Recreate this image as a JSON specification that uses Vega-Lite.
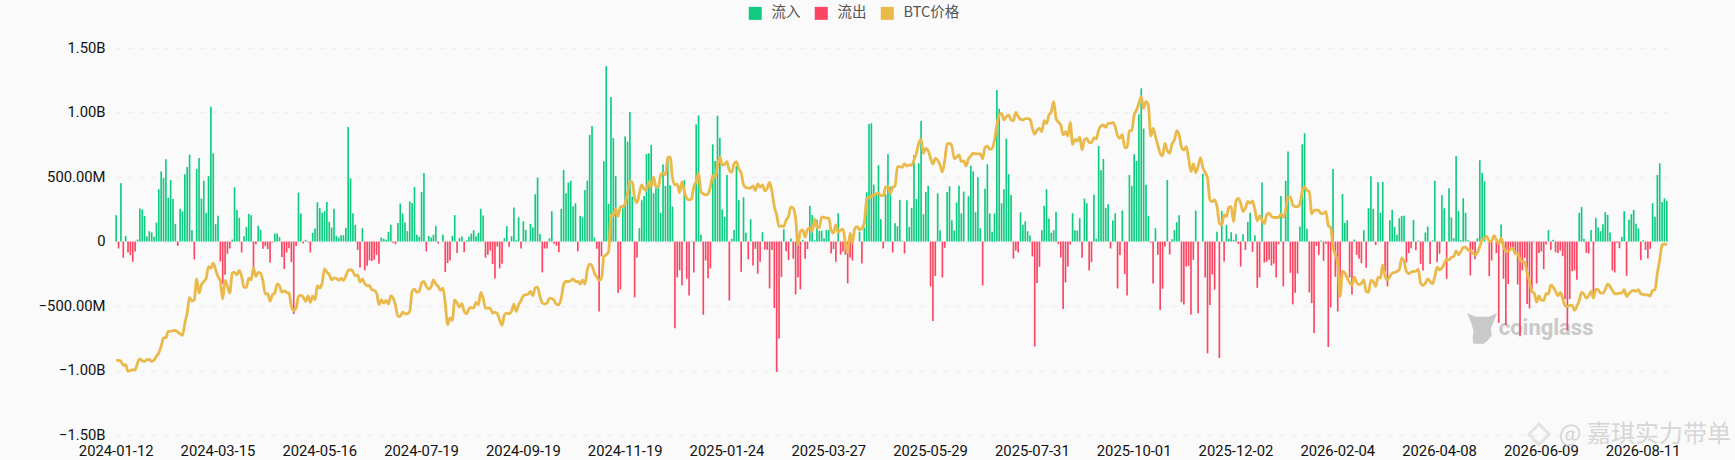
{"$schema":"https://vega.github.io/schema/vega-lite/v6.json","width":1553,"height":387,"autosize":{"type":"none"},"padding":{"left":115,"top":48,"right":67,"bottom":25},"background":"#fafafa","config":{"view":{"stroke":null},"font":"Roboto"},
"datasets":{"flows":[
{"i":0,"流入":204,"btc":-921},{"i":1,"流出":-54,"btc":-921},{"i":2,"流入":451,"btc":-929},{"i":3,"流出":-126,"btc":-960},{"i":4,"流入":44,"btc":-955},{"i":5,"流出":-85,"btc":-1006},{"i":6,"流出":-106,"btc":-1001},{"i":7,"流出":-157,"btc":-993},{"i":8,"流出":-77,"btc":-996},{"i":9,"流入":15,"btc":-942},
{"i":10,"流入":255,"btc":-911},{"i":11,"流入":248,"btc":-924},{"i":12,"流入":199,"btc":-929},{"i":13,"流入":39,"btc":-916},{"i":14,"流入":80,"btc":-913},{"i":15,"流入":70,"btc":-929},{"i":16,"流入":36,"btc":-921},{"i":17,"流入":147,"btc":-890},{"i":18,"流入":405,"btc":-864},{"i":19,"流入":542,"btc":-813},
{"i":20,"流入":493,"btc":-748},{"i":21,"流入":637,"btc":-746},{"i":22,"流入":338,"btc":-697},{"i":23,"流入":477,"btc":-697},{"i":24,"流入":330,"btc":-691},{"i":25,"流入":137,"btc":-689},{"i":26,"流出":-34,"btc":-702},{"i":27,"流入":253,"btc":-715},{"i":28,"流入":235,"btc":-728},{"i":29,"流入":521,"btc":-632},
{"i":30,"流入":578,"btc":-555},{"i":31,"流入":673,"btc":-433},{"i":32,"流入":90,"btc":-462},{"i":33,"流出":-139,"btc":-452},{"i":34,"流入":562,"btc":-289},{"i":35,"流入":648,"btc":-400},{"i":36,"流入":333,"btc":-335},{"i":37,"流入":472,"btc":-310},{"i":38,"流入":222,"btc":-284},{"i":39,"流入":506,"btc":-194},
{"i":40,"流入":1045,"btc":-206},{"i":41,"流入":684,"btc":-168},{"i":42,"流入":134,"btc":-219},{"i":43,"流入":199,"btc":-271},{"i":44,"流出":-155,"btc":-310},{"i":45,"流出":-328,"btc":-446},{"i":46,"流出":-258,"btc":-302},{"i":47,"流出":-95,"btc":-348},{"i":48,"流出":-54,"btc":-400},{"i":49,"流入":15,"btc":-245},
{"i":50,"流入":420,"btc":-240},{"i":51,"流入":245,"btc":-258},{"i":52,"流入":183,"btc":-224},{"i":53,"流出":-85,"btc":-271},{"i":54,"流入":41,"btc":-356},{"i":55,"流入":113,"btc":-356},{"i":56,"流入":214,"btc":-284},{"i":57,"流入":204,"btc":-297},{"i":58,"流出":-219,"btc":-206},{"i":59,"流出":-21,"btc":-271},
{"i":60,"流入":124,"btc":-240},{"i":61,"流入":90,"btc":-245},{"i":62,"流出":-57,"btc":-310},{"i":63,"流出":-36,"btc":-408},{"i":64,"流出":-59,"btc":-405},{"i":65,"流出":-163,"btc":-462},{"i":66,"流出":-5,"btc":-413},{"i":67,"流入":62,"btc":-400},{"i":68,"流入":62,"btc":-328},{"i":69,"流入":34,"btc":-343},
{"i":70,"流出":-121,"btc":-392},{"i":71,"流出":-214,"btc":-382},{"i":72,"流出":-85,"btc":-395},{"i":73,"流出":-52,"btc":-400},{"i":74,"流出":-160,"btc":-503},{"i":75,"流出":-562,"btc":-534},{"i":76,"流出":-34,"btc":-516},{"i":77,"流入":379,"btc":-426},{"i":78,"流入":217,"btc":-418},{"i":79,"流出":-15,"btc":-431},
{"i":80,"流入":13,"btc":-464},{"i":81,"流出":-5,"btc":-421},{"i":82,"流出":-85,"btc":-472},{"i":83,"流入":67,"btc":-421},{"i":84,"流入":100,"btc":-452},{"i":85,"流入":304,"btc":-343},{"i":86,"流入":258,"btc":-361},{"i":87,"流入":222,"btc":-323},{"i":88,"流入":237,"btc":-212},{"i":89,"流入":307,"btc":-237},
{"i":90,"流入":152,"btc":-258},{"i":91,"流入":108,"btc":-297},{"i":92,"流入":253,"btc":-284},{"i":93,"流入":44,"btc":-284},{"i":94,"流入":31,"btc":-302},{"i":95,"流入":49,"btc":-286},{"i":96,"流入":49,"btc":-302},{"i":97,"流入":106,"btc":-266},{"i":98,"流入":887,"btc":-224},{"i":99,"流入":490,"btc":-219},
{"i":100,"流入":219,"btc":-232},{"i":101,"流入":129,"btc":-266},{"i":102,"流出":-65,"btc":-258},{"i":103,"流出":-201,"btc":-315},{"i":104,"流入":103,"btc":-289},{"i":105,"流出":-224,"btc":-328},{"i":106,"流出":-188,"btc":-343},{"i":107,"流出":-147,"btc":-343},{"i":108,"流出":-152,"btc":-374},{"i":109,"流出":-142,"btc":-379},
{"i":110,"流出":-103,"btc":-400},{"i":111,"流出":-173,"btc":-490},{"i":112,"流入":31,"btc":-452},{"i":113,"流入":21,"btc":-477},{"i":114,"流入":13,"btc":-457},{"i":115,"流入":75,"btc":-485},{"i":116,"流入":129,"btc":-421},{"i":117,"流出":-10,"btc":-439},{"i":118,"流出":-21,"btc":-495},{"i":119,"流入":144,"btc":-581},
{"i":120,"流入":294,"btc":-581},{"i":121,"流入":217,"btc":-547},{"i":122,"流入":147,"btc":-560},{"i":123,"流入":80,"btc":-560},{"i":124,"流入":310,"btc":-542},{"i":125,"流入":299,"btc":-387},{"i":126,"流入":423,"btc":-369},{"i":127,"流入":52,"btc":-395},{"i":128,"流入":36,"btc":-387},{"i":129,"流入":384,"btc":-323},
{"i":130,"流入":531,"btc":-310},{"i":131,"流出":-77,"btc":-348},{"i":132,"流入":44,"btc":-369},{"i":133,"流入":31,"btc":-353},{"i":134,"流入":52,"btc":-297},{"i":135,"流入":121,"btc":-328},{"i":136,"流出":-15,"btc":-348},{"i":137,"btc":-379},{"i":138,"流入":52,"btc":-361},{"i":139,"流出":-237,"btc":-477},
{"i":140,"流出":-168,"btc":-645},{"i":141,"流出":-147,"btc":-593},{"i":142,"流入":44,"btc":-611},{"i":143,"流入":204,"btc":-452},{"i":144,"流出":-90,"btc":-477},{"i":145,"流入":28,"btc":-508},{"i":146,"流入":39,"btc":-482},{"i":147,"流出":-83,"btc":-542},{"i":148,"流入":10,"btc":-560},{"i":149,"流入":36,"btc":-524},
{"i":150,"流入":62,"btc":-511},{"i":151,"流入":88,"btc":-516},{"i":152,"流入":41,"btc":-472},{"i":153,"流入":67,"btc":-490},{"i":154,"流入":253,"btc":-395},{"i":155,"流入":201,"btc":-439},{"i":156,"流出":-126,"btc":-516},{"i":157,"流出":-103,"btc":-516},{"i":158,"流出":-70,"btc":-516},{"i":159,"流出":-175,"btc":-555},
{"i":160,"流出":-286,"btc":-550},{"i":161,"流出":-39,"btc":-560},{"i":162,"流出":-209,"btc":-611},{"i":163,"流出":-173,"btc":-650},{"i":164,"流入":26,"btc":-568},{"i":165,"流入":119,"btc":-555},{"i":166,"流出":-41,"btc":-560},{"i":167,"流入":41,"btc":-542},{"i":168,"流入":263,"btc":-485},{"i":169,"流入":10,"btc":-542},
{"i":170,"流入":188,"btc":-490},{"i":171,"流出":-54,"btc":-457},{"i":172,"流入":157,"btc":-421},{"i":173,"流入":90,"btc":-413},{"i":174,"流入":2,"btc":-408},{"i":175,"流入":137,"btc":-387},{"i":176,"流入":108,"btc":-421},{"i":177,"流入":366,"btc":-359},{"i":178,"流入":495,"btc":-353},{"i":179,"流入":59,"btc":-426},
{"i":180,"流出":-240,"btc":-477},{"i":181,"流出":-54,"btc":-485},{"i":182,"流出":-54,"btc":-477},{"i":183,"流入":26,"btc":-441},{"i":184,"流入":235,"btc":-441},{"i":185,"流出":-18,"btc":-457},{"i":186,"流出":-34,"btc":-490},{"i":187,"流出":-83,"btc":-490},{"i":188,"流入":253,"btc":-439},{"i":189,"流入":555,"btc":-335},
{"i":190,"流入":374,"btc":-310},{"i":191,"流入":457,"btc":-310},{"i":192,"流入":472,"btc":-304},{"i":193,"流入":273,"btc":-289},{"i":194,"流入":297,"btc":-310},{"i":195,"流出":-77,"btc":-310},{"i":196,"流入":199,"btc":-330},{"i":197,"流入":188,"btc":-297},{"i":198,"流入":400,"btc":-330},{"i":199,"流入":472,"btc":-219},
{"i":200,"流入":826,"btc":-175},{"i":201,"流入":895,"btc":-188},{"i":202,"流入":31,"btc":-245},{"i":203,"流出":-57,"btc":-276},{"i":204,"流出":-542,"btc":-302},{"i":205,"流出":-116,"btc":-284},{"i":206,"流入":622,"btc":-116},{"i":207,"流入":1360,"btc":-103},{"i":208,"流入":292,"btc":-77},{"i":209,"流入":1120,"btc":206},
{"i":210,"流入":802,"btc":199},{"i":211,"流入":508,"btc":253},{"i":212,"流出":-400,"btc":194},{"i":213,"流出":-372,"btc":271},{"i":214,"流入":258,"btc":271},{"i":215,"流入":813,"btc":297},{"i":216,"流入":774,"btc":374},{"i":217,"流入":1004,"btc":464},{"i":218,"流入":348,"btc":464},{"i":219,"流出":-433,"btc":335},
{"i":220,"流出":-124,"btc":302},{"i":221,"流入":103,"btc":374},{"i":222,"流入":320,"btc":439},{"i":223,"流入":353,"btc":405},{"i":224,"流入":679,"btc":400},{"i":225,"流入":684,"btc":464},{"i":226,"流入":748,"btc":426},{"i":227,"流入":374,"btc":498},{"i":228,"流入":413,"btc":426},{"i":229,"流入":420,"btc":421},
{"i":230,"流入":222,"btc":516},{"i":231,"流入":596,"btc":529},{"i":232,"流入":431,"btc":516},{"i":233,"流入":650,"btc":653},{"i":234,"流入":436,"btc":653},{"i":235,"流入":271,"btc":490},{"i":236,"流出":-673,"btc":439},{"i":237,"流出":-279,"btc":444},{"i":238,"流出":-224,"btc":379},{"i":239,"流出":-341,"btc":464},
{"i":240,"流入":475,"btc":387},{"i":241,"流出":-289,"btc":335},{"i":242,"流出":-418,"btc":323},{"i":243,"流入":3,"btc":330},{"i":244,"流出":-240,"btc":426},{"i":245,"流入":908,"btc":464},{"i":246,"流入":978,"btc":529},{"i":247,"流入":52,"btc":387},{"i":248,"流出":-568,"btc":369},{"i":249,"流出":-147,"btc":361},
{"i":250,"流出":-284,"btc":369},{"i":251,"流出":-209,"btc":426},{"i":252,"流入":753,"btc":511},{"i":253,"流入":624,"btc":498},{"i":254,"流入":975,"btc":593},{"i":255,"流入":802,"btc":653},{"i":256,"流入":248,"btc":593},{"i":257,"流入":191,"btc":599},{"i":258,"流入":516,"btc":619},{"i":259,"流出":-457,"btc":550},
{"i":260,"流入":21,"btc":537},{"i":261,"流入":90,"btc":601},{"i":262,"流入":586,"btc":619},{"i":263,"流入":320,"btc":560},{"i":264,"流出":-235,"btc":534},{"i":265,"流入":341,"btc":439},{"i":266,"流入":67,"btc":418},{"i":267,"流出":-139,"btc":413},{"i":268,"流入":173,"btc":413},{"i":269,"流出":-186,"btc":431},
{"i":270,"流出":-57,"btc":395},{"i":271,"流出":-250,"btc":446},{"i":272,"流出":-157,"btc":421},{"i":273,"流入":72,"btc":439},{"i":274,"流出":-62,"btc":392},{"i":275,"流出":-65,"btc":413},{"i":276,"流出":-364,"btc":459},{"i":277,"流出":-65,"btc":387},{"i":278,"流出":-516,"btc":271},{"i":279,"流出":-1011,"btc":206},
{"i":280,"流出":-751,"btc":116},{"i":281,"流出":-276,"btc":121},{"i":282,"流入":95,"btc":116},{"i":283,"流出":-75,"btc":168},{"i":284,"流出":-144,"btc":194},{"i":285,"流入":23,"btc":268},{"i":286,"流出":-134,"btc":258},{"i":287,"流出":-410,"btc":181},{"i":288,"流出":-279,"btc":-26},{"i":289,"流出":-372,"btc":77},
{"i":290,"流入":13,"btc":90},{"i":291,"流出":-134,"btc":34},{"i":292,"流出":-59,"btc":95},{"i":293,"流入":276,"btc":103},{"i":294,"流入":206,"btc":77},{"i":295,"流入":10,"btc":173},{"i":296,"流入":168,"btc":108},{"i":297,"流入":83,"btc":108},{"i":298,"流入":83,"btc":188},{"i":299,"流入":26,"btc":188},
{"i":300,"流入":90,"btc":181},{"i":301,"流入":90,"btc":181},{"i":302,"流出":-93,"btc":90},{"i":303,"流出":-59,"btc":65},{"i":304,"流出":-157,"btc":129},{"i":305,"流入":219,"btc":70},{"i":306,"流出":-101,"btc":90},{"i":307,"流出":-77,"btc":95},{"i":308,"流出":-103,"btc":-8},{"i":309,"流出":-325,"btc":-85},
{"i":310,"流出":-124,"btc":65},{"i":311,"流出":-147,"btc":-8},{"i":312,"btc":103},{"i":313,"btc":116},{"i":314,"流入":75,"btc":90},{"i":315,"流出":-170,"btc":103},{"i":316,"流入":108,"btc":142},{"i":317,"流入":382,"btc":323},{"i":318,"流入":911,"btc":343},{"i":319,"流入":916,"btc":348},
{"i":320,"流入":441,"btc":361},{"i":321,"流入":374,"btc":369},{"i":322,"流入":591,"btc":374},{"i":323,"流入":173,"btc":356},{"i":324,"流出":-54,"btc":356},{"i":325,"流入":366,"btc":421},{"i":326,"流入":676,"btc":426},{"i":327,"流入":426,"btc":374},{"i":328,"流出":-85,"btc":421},{"i":329,"流入":142,"btc":431},
{"i":330,"流入":119,"btc":581},{"i":331,"流入":323,"btc":581},{"i":332,"流入":5,"btc":575},{"i":333,"流出":-93,"btc":601},{"i":334,"流入":320,"btc":586},{"i":335,"流入":113,"btc":593},{"i":336,"流入":260,"btc":591},{"i":337,"流入":668,"btc":632},{"i":338,"流入":330,"btc":684},{"i":339,"流入":606,"btc":761},
{"i":340,"流入":934,"btc":792},{"i":341,"流入":212,"btc":684},{"i":342,"流入":384,"btc":722},{"i":343,"流入":431,"btc":704},{"i":344,"流出":-348,"btc":645},{"i":345,"流出":-617,"btc":601},{"i":346,"流出":-268,"btc":645},{"i":347,"流入":374,"btc":632},{"i":348,"流入":88,"btc":593},{"i":349,"流出":-279,"btc":539},
{"i":350,"流出":-49,"btc":632},{"i":351,"流入":384,"btc":756},{"i":352,"流入":428,"btc":761},{"i":353,"流入":165,"btc":740},{"i":354,"流入":85,"btc":642},{"i":355,"流入":302,"btc":653},{"i":356,"流入":433,"btc":671},{"i":357,"流入":217,"btc":619},{"i":358,"流入":387,"btc":624},{"i":359,"流入":2,"btc":586},
{"i":360,"流入":351,"btc":640},{"i":361,"流入":588,"btc":663},{"i":362,"流入":544,"btc":684},{"i":363,"流入":227,"btc":679},{"i":364,"流入":498,"btc":679},{"i":365,"流入":103,"btc":679},{"i":366,"流出":-341,"btc":640},{"i":367,"流入":408,"btc":730},{"i":368,"流入":599,"btc":740},{"i":369,"流入":217,"btc":715},
{"i":370,"流入":75,"btc":722},{"i":371,"流入":217,"btc":787},{"i":372,"流入":1174,"btc":903},{"i":373,"流入":1029,"btc":980},{"i":374,"流入":297,"btc":993},{"i":375,"流入":405,"btc":942},{"i":376,"流入":797,"btc":968},{"i":377,"流入":521,"btc":980},{"i":378,"流入":361,"btc":942},{"i":379,"流出":-132,"btc":937},
{"i":380,"流出":-70,"btc":1001},{"i":381,"流出":-85,"btc":968},{"i":382,"流入":227,"btc":947},{"i":383,"流入":129,"btc":942},{"i":384,"流入":157,"btc":952},{"i":385,"流入":80,"btc":952},{"i":386,"流入":46,"btc":947},{"i":387,"流出":-116,"btc":877},{"i":388,"流出":-813,"btc":833},{"i":389,"流出":-322,"btc":864},
{"i":390,"流出":-196,"btc":877},{"i":391,"流入":88,"btc":851},{"i":392,"流入":276,"btc":937},{"i":393,"流入":405,"btc":916},{"i":394,"流入":178,"btc":980},{"i":395,"流入":67,"btc":1006},{"i":396,"流入":88,"btc":1084},{"i":397,"流入":230,"btc":955},{"i":398,"流出":-18,"btc":924},{"i":399,"流出":-124,"btc":903},
{"i":400,"流出":-524,"btc":826},{"i":401,"流出":-317,"btc":851},{"i":402,"流出":-194,"btc":818},{"i":403,"流出":-23,"btc":924},{"i":404,"流入":219,"btc":753},{"i":405,"流入":88,"btc":792},{"i":406,"流入":83,"btc":779},{"i":407,"流入":181,"btc":808},{"i":408,"流出":-126,"btc":710},{"i":409,"流入":333,"btc":787},
{"i":410,"流入":297,"btc":800},{"i":411,"流出":-224,"btc":766},{"i":412,"流出":-160,"btc":766},{"i":413,"流入":364,"btc":805},{"i":414,"流入":21,"btc":795},{"i":415,"流入":740,"btc":864},{"i":416,"流入":552,"btc":895},{"i":417,"流入":640,"btc":903},{"i":418,"流入":260,"btc":885},{"i":419,"流入":289,"btc":916},
{"i":420,"流出":-54,"btc":916},{"i":421,"流入":163,"btc":924},{"i":422,"流入":219,"btc":890},{"i":423,"流出":-364,"btc":818},{"i":424,"流出":-106,"btc":800},{"i":425,"流入":240,"btc":831},{"i":426,"流出":-253,"btc":728},{"i":427,"流出":-418,"btc":730},{"i":428,"流入":516,"btc":859},{"i":429,"流入":431,"btc":859},
{"i":430,"流入":676,"btc":980},{"i":431,"流入":624,"btc":1019},{"i":432,"流入":986,"btc":1071},{"i":433,"流入":1187,"btc":1122},{"i":434,"流入":875,"btc":1032},{"i":435,"流入":439,"btc":1084},{"i":436,"流入":199,"btc":1058},{"i":437,"流出":-8,"btc":818},{"i":438,"流出":-325,"btc":877},{"i":439,"流入":103,"btc":813},
{"i":440,"流出":-103,"btc":748},{"i":441,"流出":-531,"btc":684},{"i":442,"流出":-366,"btc":663},{"i":443,"流出":-39,"btc":761},{"i":444,"流入":477,"btc":704},{"i":445,"流出":-101,"btc":684},{"i":446,"流入":18,"btc":756},{"i":447,"流入":88,"btc":787},{"i":448,"流入":150,"btc":857},{"i":449,"流入":204,"btc":826},
{"i":450,"流出":-470,"btc":730},{"i":451,"流出":-488,"btc":710},{"i":452,"流出":-194,"btc":735},{"i":453,"流出":-188,"btc":645},{"i":454,"流出":-565,"btc":542},{"i":455,"流出":-142,"btc":601},{"i":456,"流入":240,"btc":534},{"i":457,"流出":-557,"btc":581},{"i":458,"btc":650},{"i":459,"流入":524,"btc":575},
{"i":460,"流出":-279,"btc":534},{"i":461,"流出":-867,"btc":490},{"i":462,"流出":-493,"btc":323},{"i":463,"流出":-255,"btc":310},{"i":464,"流出":-374,"btc":323},{"i":465,"流入":75,"btc":271},{"i":466,"流出":-903,"btc":142},{"i":467,"流入":237,"btc":129},{"i":468,"流出":-155,"btc":206},{"i":469,"流入":129,"btc":194},
{"i":470,"流入":21,"btc":266},{"i":471,"流入":72,"btc":271},{"i":472,"流入":13,"btc":155},{"i":473,"流入":59,"btc":310},{"i":474,"流出":-18,"btc":335},{"i":475,"流出":-194,"btc":297},{"i":476,"流入":57,"btc":232},{"i":477,"流出":-65,"btc":258},{"i":478,"流入":152,"btc":310},{"i":479,"流入":222,"btc":297},
{"i":480,"流出":-80,"btc":315},{"i":481,"流入":49,"btc":245},{"i":482,"流出":-359,"btc":160},{"i":483,"流出":-279,"btc":199},{"i":484,"流入":457,"btc":168},{"i":485,"流出":-163,"btc":139},{"i":486,"流出":-157,"btc":206},{"i":487,"流出":-142,"btc":219},{"i":488,"流出":-186,"btc":194},{"i":489,"流出":-170,"btc":186},
{"i":490,"流出":-279,"btc":186},{"i":491,"流出":-21,"btc":186},{"i":492,"流入":353,"btc":214},{"i":493,"流出":-348,"btc":188},{"i":494,"流入":470,"btc":245},{"i":495,"流入":697,"btc":348},{"i":496,"流出":-243,"btc":343},{"i":497,"流出":-488,"btc":284},{"i":498,"流出":-397,"btc":271},{"i":499,"流出":-248,"btc":271},
{"i":500,"流入":116,"btc":292},{"i":501,"流入":753,"btc":387},{"i":502,"流入":839,"btc":426},{"i":503,"流入":98,"btc":395},{"i":504,"流出":-395,"btc":387},{"i":505,"流出":-477,"btc":214},{"i":506,"流出":-710,"btc":240},{"i":507,"流出":-34,"btc":245},{"i":508,"流出":-103,"btc":240},{"i":509,"流入":8,"btc":214},
{"i":510,"流出":-150,"btc":219},{"i":511,"流出":-18,"btc":232},{"i":512,"流出":-818,"btc":124},{"i":513,"流出":-511,"btc":108},{"i":514,"流入":562,"btc":-39},{"i":515,"流出":-273,"btc":-103},{"i":516,"流出":-542,"btc":-168},{"i":517,"流出":-430,"btc":-426},{"i":518,"流入":369,"btc":-232},{"i":519,"流入":144,"btc":-245},
{"i":520,"流入":165,"btc":-284},{"i":521,"流出":-279,"btc":-317},{"i":522,"流出":-410,"btc":-341},{"i":523,"流入":15,"btc":-276},{"i":524,"流出":-103,"btc":-317},{"i":525,"流出":-134,"btc":-335},{"i":526,"流出":-168,"btc":-323},{"i":527,"流入":88,"btc":-297},{"i":528,"流出":-204,"btc":-387},{"i":529,"流入":258,"btc":-395},
{"i":530,"流入":506,"btc":-302},{"i":531,"流入":253,"btc":-310},{"i":532,"流出":-28,"btc":-348},{"i":533,"流入":459,"btc":-279},{"i":534,"流入":224,"btc":-284},{"i":535,"流入":462,"btc":-181},{"i":536,"流出":-230,"btc":-271},{"i":537,"流出":-348,"btc":-297},{"i":538,"流入":165,"btc":-271},{"i":539,"流入":245,"btc":-245},
{"i":540,"流入":113,"btc":-240},{"i":541,"流入":52,"btc":-232},{"i":542,"流入":181,"btc":-219},{"i":543,"流入":199,"btc":-129},{"i":544,"流入":199,"btc":-155},{"i":545,"流出":-163,"btc":-232},{"i":546,"流出":-90,"btc":-250},{"i":547,"流出":-52,"btc":-237},{"i":548,"流入":168,"btc":-232},{"i":549,"流出":-67,"btc":-232},
{"i":550,"流入":8,"btc":-214},{"i":551,"流出":-173,"btc":-323},{"i":552,"流出":-224,"btc":-341},{"i":553,"流入":70,"btc":-323},{"i":554,"流入":116,"btc":-289},{"i":555,"流出":-175,"btc":-310},{"i":556,"流入":8,"btc":-328},{"i":557,"流入":470,"btc":-271},{"i":558,"流出":-160,"btc":-199},{"i":559,"流出":-95,"btc":-219},
{"i":560,"流入":359,"btc":-206},{"i":561,"流入":258,"btc":-173},{"i":562,"流出":-289,"btc":-137},{"i":563,"流入":413,"btc":-142},{"i":564,"流入":186,"btc":-121},{"i":565,"流入":26,"btc":-116},{"i":566,"流入":663,"btc":-72},{"i":567,"流入":237,"btc":-103},{"i":568,"流入":10,"btc":-77},{"i":569,"流入":335,"btc":-46},
{"i":570,"流入":222,"btc":-44},{"i":571,"流入":10,"btc":-65},{"i":572,"流出":-263,"btc":-70},{"i":573,"流出":-65,"btc":-90},{"i":574,"流出":-137,"btc":-103},{"i":575,"流入":26,"btc":-85},{"i":576,"流入":630,"btc":-39},{"i":577,"流入":531,"btc":13},{"i":578,"流入":467,"btc":26},{"i":579,"btc":39},
{"i":580,"流出":-268,"btc":0},{"i":581,"流出":-147,"btc":5},{"i":582,"btc":46},{"i":583,"流出":-90,"btc":13},{"i":584,"流出":-630,"btc":-18},{"i":585,"流入":132,"btc":26},{"i":586,"流出":-289,"btc":-39},{"i":587,"流出":-648,"btc":-77},{"i":588,"流出":-330,"btc":-77},{"i":589,"流出":-46,"btc":-57},
{"i":590,"流出":-52,"btc":-54},{"i":591,"流出":-90,"btc":-95},{"i":592,"流出":-333,"btc":-95},{"i":593,"流出":-735,"btc":-142},{"i":594,"流出":-224,"btc":-155},{"i":595,"流出":-126,"btc":-160},{"i":596,"流出":-485,"btc":-245},{"i":597,"流出":-519,"btc":-310},{"i":598,"流出":-374,"btc":-387},{"i":599,"流入":3,"btc":-400},
{"i":600,"流出":-325,"btc":-470},{"i":601,"流出":-90,"btc":-421},{"i":602,"流出":-77,"btc":-457},{"i":603,"流出":-214,"btc":-457},{"i":604,"流出":-23,"btc":-405},{"i":605,"流入":88,"btc":-408},{"i":606,"流出":-65,"btc":-338},{"i":607,"流入":13,"btc":-353},{"i":608,"流出":-83,"btc":-387},{"i":609,"流出":-90,"btc":-421},
{"i":610,"流出":-70,"btc":-395},{"i":611,"流出":-114,"btc":-439},{"i":612,"流出":-446,"btc":-498},{"i":613,"流出":-689,"btc":-503},{"i":614,"流出":-446,"btc":-495},{"i":615,"流出":-230,"btc":-495},{"i":616,"流出":-224,"btc":-534},{"i":617,"流出":-297,"btc":-503},{"i":618,"流入":222,"btc":-457},{"i":619,"流入":268,"btc":-395},
{"i":620,"流入":21,"btc":-408},{"i":621,"流出":-88,"btc":-439},{"i":622,"流出":-93,"btc":-421},{"i":623,"流入":90,"btc":-387},{"i":624,"流出":-415,"btc":-439},{"i":625,"流入":183,"btc":-369},{"i":626,"流入":108,"btc":-374},{"i":627,"流入":80,"btc":-400},{"i":628,"流入":134,"btc":-400},{"i":629,"流入":227,"btc":-374},
{"i":630,"流入":206,"btc":-330},{"i":631,"流入":70,"btc":-348},{"i":632,"流出":-224,"btc":-379},{"i":633,"流出":-240,"btc":-405},{"i":634,"流出":-10,"btc":-405},{"i":635,"流出":-52,"btc":-400},{"i":636,"流入":34,"btc":-400},{"i":637,"流入":235,"btc":-374},{"i":638,"流出":-266,"btc":-426},{"i":639,"流入":168,"btc":-405},
{"i":640,"流入":212,"btc":-387},{"i":641,"流入":245,"btc":-379},{"i":642,"流入":137,"btc":-387},{"i":643,"流入":101,"btc":-374},{"i":644,"流出":-144,"btc":-405},{"i":645,"流入":10,"btc":-410},{"i":646,"流出":-65,"btc":-413},{"i":647,"流出":-132,"btc":-415},{"i":648,"流出":-57,"btc":-421},{"i":649,"流入":297,"btc":-379},
{"i":650,"流入":191,"btc":-374},{"i":651,"流入":516,"btc":-245},{"i":652,"流入":606,"btc":-142},{"i":653,"流入":307,"btc":-26},{"i":654,"流入":335,"btc":-21},{"i":655,"流入":315,"btc":-28}
],
"marks":[{"i":604,"v":-670,"t":"coinglass"}],
"logo":[{"i":577,"v":-670}],
"brand":[{"i":655,"v":-1500,"t":"@ 嘉琪实力带单"}],
"diamond":[{"i":601,"v":-1495}]},
"encoding":{"x":{"field":"i","type":"ordinal","scale":{"type":"band","paddingInner":0.3,"paddingOuter":0.15},"axis":{"title":null,"domain":false,"ticks":false,"grid":false,"labelAngle":0,"labelPadding":8,"labelFontSize":14.8,"labelColor":"#111","labelOverlap":false,"labelFlush":false,"values":[0,43,86,129,172,215,258,301,344,387,430,473,516,559,602,645],"labelExpr":"['2024-01-12','2024-03-15','2024-05-16','2024-07-19','2024-09-19','2024-11-19','2025-01-24','2025-03-27','2025-05-29','2025-07-31','2025-10-01','2025-12-02','2026-02-04','2026-04-08','2026-06-09','2026-08-11'][datum.value/43]"}}},
"layer":[
{"data":{"name":"marks"},"mark":{"type":"text","font":"Roboto","fontWeight":"bold","fontSize":22,"color":"#c9c9c9"},"encoding":{"y":{"field":"v","type":"quantitative","scale":{"domain":[-1500,1500],"nice":false},"axis":{"title":null,"domain":false,"ticks":false,"labelPadding":10,"labelFontSize":14.8,"labelColor":"#111","values":[-1500,-1000,-500,0,500,1000,1500],"gridColor":"#f0f0f0","gridWidth":1.5,"gridDash":[6,6],"labelExpr":"datum.value==0?'0':abs(datum.value)>=1000?format(datum.value/1000,'.2f')+'B':format(datum.value,'.2f')+'M'"}},"text":{"field":"t"}}},
{"data":{"name":"logo"},"mark":{"type":"point","filled":true,"shape":"M-0.95,-0.95 L-0.45,-0.7 L0.45,-0.7 L0.95,-0.95 L0.7,-0.35 L0.55,0.05 L0.6,0.5 L0.35,0.8 L0.1,1 L-0.3,1 L-0.55,1 L-0.6,0.65 L-0.55,0.2 L-0.7,-0.35 Z","size":1000,"color":"#c9c9c9","opacity":1},"encoding":{"y":{"field":"v","type":"quantitative"}}},
{"data":{"name":"flows"},"transform":[{"fold":["流入","流出"],"as":["s","v"]}],"mark":{"type":"bar"},"encoding":{"y":{"field":"v","type":"quantitative","stack":null},"color":{"field":"s","type":"nominal","scale":{"domain":["流入","流出","BTC价格"],"range":["#0ecb81","#fb4562","#e9b949"]},"legend":{"title":null,"orient":"none","legendX":633,"legendY":-42,"padding":0,"direction":"horizontal","symbolType":"square","symbolSize":169,"symbolStrokeWidth":0,"labelFont":"Noto Sans CJK SC","labelFontSize":14.5,"labelColor":"#555","labelOffset":9,"columnPadding":13}}}},
{"data":{"name":"flows"},"mark":{"type":"line","interpolate":"monotone","strokeWidth":2.8},"encoding":{"y":{"field":"btc","type":"quantitative"},"color":{"datum":"BTC价格","legend":null}}},
{"data":{"name":"brand"},"mark":{"type":"text","align":"left","dx":-108,"font":"Noto Sans CJK SC","fontSize":24,"color":"#d6d6d6"},"encoding":{"y":{"field":"v","type":"quantitative"},"text":{"field":"t"}}},
{"data":{"name":"diamond"},"mark":{"type":"point","shape":"diamond","size":420,"strokeWidth":3,"color":"#dcdcdc"},"encoding":{"y":{"field":"v","type":"quantitative"}}}
]}
